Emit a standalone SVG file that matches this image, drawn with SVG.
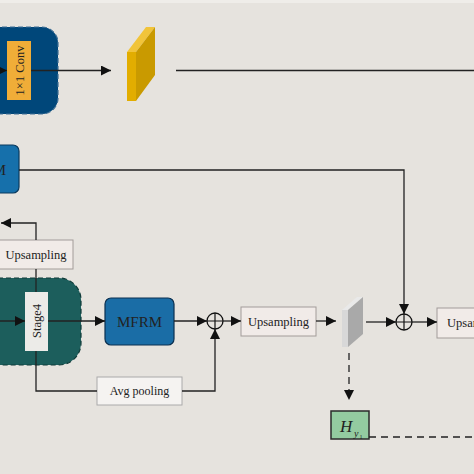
<svg xmlns="http://www.w3.org/2000/svg" width="474" height="474" viewBox="0 0 474 474">
<defs>
<marker id="ah" markerUnits="userSpaceOnUse" markerWidth="12" markerHeight="10" refX="10" refY="5" orient="auto">
<path d="M0,0 L10,5 L0,10 z" fill="#111"/>
</marker>
<style>
.ln{fill:none;stroke:#222;stroke-width:1.3}
.dash{fill:none;stroke:#222;stroke-width:1.3;stroke-dasharray:7,5}
.box{fill:#f1ebe8;stroke:#a29c99;stroke-width:1}
.t{font-family:"Liberation Serif","Times New Roman",serif;fill:#222}
</style>
</defs>
<rect width="474" height="474" fill="#e6e3de"/>
<rect width="474" height="3" fill="#efede9"/>

<g id="conv-block">
<rect x="-30" y="27" width="88" height="87" rx="16" fill="#00477a" stroke="#3f6f94" stroke-width="1.2" stroke-dasharray="5,3"/>
<rect x="7" y="41" width="24" height="59" fill="#f0ad38"/>
<text class="t" x="0" y="0" font-size="12.5" text-anchor="middle" transform="translate(23.5,70.5) rotate(-90)" fill="#3a2a10">1×1 Conv</text>
</g>

<g id="gold-feature">
<polygon points="127,52 136,52 136,101 127,101" fill="#e2ad00"/>
<polygon points="127,52 146,27 155,27 136,52" fill="#f1c43a"/>
<polygon points="136,52 155,27 155,75 136,101" fill="#c99a00"/>
</g>

<g id="mfrm-top">
<rect x="-40" y="145" width="59" height="48" rx="6" fill="#1670ab" stroke="#0b3a5e" stroke-width="1.2"/>
<text class="t" x="6" y="175" font-size="15" text-anchor="end" fill="#0b2d52">M</text>
</g>

<g id="upsampling-left">
<rect class="box" x="-5" y="240" width="78" height="29"/>
<text class="t" x="36" y="258.5" font-size="12.5" text-anchor="middle">Upsampling</text>
</g>

<g id="stage4-block">
<rect x="-40" y="278" width="121" height="87" rx="22" fill="#1c5e5c" stroke="#0e3a38" stroke-width="1.2" stroke-dasharray="5,3"/>
<rect x="25" y="292" width="23" height="59" fill="#ecebe8"/>
<text class="t" x="0" y="0" font-size="12.5" text-anchor="middle" transform="translate(40.5,321) rotate(-90)">Stage4</text>
</g>

<g id="mfrm">
<rect x="105" y="298" width="69" height="47" rx="6" fill="#1a6da6" stroke="#0b3050" stroke-width="1.2"/>
<text class="t" x="139.5" y="326.5" font-size="15" text-anchor="middle" fill="#0b2d52">MFRM</text>
</g>

<g id="avg-pooling">
<rect x="97" y="377" width="85" height="28" fill="#f5f3f1" stroke="#aaa" stroke-width="1"/>
<text class="t" x="139.5" y="395" font-size="12" text-anchor="middle">Avg pooling</text>
</g>

<g id="add1">
<circle cx="215" cy="321" r="8" fill="none" stroke="#111" stroke-width="1.3"/>
<path d="M207,321 H223 M215,313 V329" stroke="#111" stroke-width="1.2"/>
</g>

<g id="upsampling-mid">
<rect class="box" x="241" y="307" width="75" height="29"/>
<text class="t" x="278.5" y="325.5" font-size="12.5" text-anchor="middle">Upsampling</text>
</g>

<g id="gray-feature">
<polygon points="342,310 348,310 348,347 342,347" fill="#d8d8d8"/>
<polygon points="342,310 357,297 363,297 348,310" fill="#e9e9e9"/>
<polygon points="348,310 363,297 363,334 348,347" fill="#a9a9a9"/>
</g>

<g id="add2">
<circle cx="404" cy="322" r="8" fill="none" stroke="#111" stroke-width="1.3"/>
<path d="M396,322 H412 M404,314 V330" stroke="#111" stroke-width="1.2"/>
</g>

<g id="upsampling-right">
<rect class="box" x="437" y="308" width="50" height="30"/>
<text class="t" x="447" y="327" font-size="12.5">Upsampling</text>
</g>

<g id="h-box">
<rect x="331" y="411" width="38" height="28" fill="#93cba0" stroke="#2b2b2b" stroke-width="1.5"/>
<text class="t" x="340" y="432" font-size="17" font-style="italic">H</text>
<text class="t" x="354" y="437" font-size="10" font-style="italic">y</text>
<text class="t" x="359.5" y="439" font-size="6">1</text>
</g>

<g id="connectors">
<path class="ln" d="M-10,70.5 H7" marker-end="url(#ah)"/>
<path class="ln" d="M31,70.5 H111" marker-end="url(#ah)"/>
<path class="ln" d="M176,70.5 H474"/>
<path class="ln" d="M19,170 H404 V314" marker-end="url(#ah)"/>
<path class="ln" d="M36,240 V223 H1" marker-end="url(#ah)"/>
<path class="ln" d="M36,269 V292"/>
<path class="ln" d="M-10,321 H25" marker-end="url(#ah)"/>
<path class="ln" d="M48,321 H105" marker-end="url(#ah)"/>
<path class="ln" d="M174,321 H207" marker-end="url(#ah)"/>
<path class="ln" d="M223,321 H241" marker-end="url(#ah)"/>
<path class="ln" d="M36,351 V391 H97"/>
<path class="ln" d="M182,391 H215 V329" marker-end="url(#ah)"/>
<path class="ln" d="M316,321 H336" marker-end="url(#ah)"/>
<path class="ln" d="M366,322 H396" marker-end="url(#ah)"/>
<path class="ln" d="M412,322 H437" marker-end="url(#ah)"/>
<path class="dash" d="M349,353 V400" marker-end="url(#ah)"/>
<path class="dash" d="M369,437 H474"/>
</g>
</svg>
